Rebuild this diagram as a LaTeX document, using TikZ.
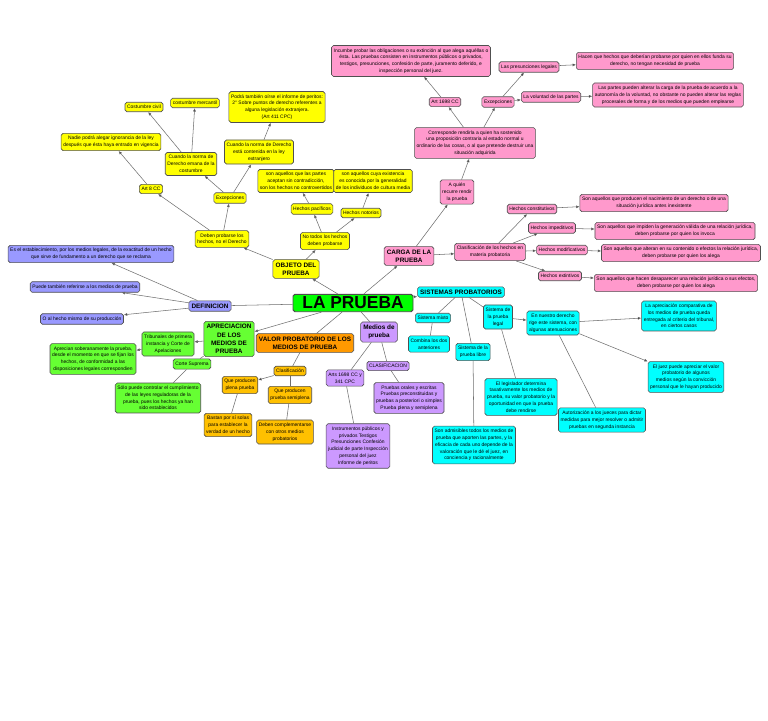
\documentclass[tikz,border=0pt]{standalone}
\usepackage{fontspec}
\setmainfont{Liberation Sans}
\usetikzlibrary{arrows.meta}
\definecolor{cyel}{HTML}{FFFF00}
\definecolor{cpink}{HTML}{FF99CC}
\definecolor{ccyan}{HTML}{00FFFF}
\definecolor{clav}{HTML}{9999FF}
\definecolor{cgreen}{HTML}{66FF33}
\definecolor{cmain}{HTML}{00FF00}
\definecolor{corg}{HTML}{FF9900}
\definecolor{camb}{HTML}{FFC000}
\definecolor{cvio}{HTML}{CC99FF}
\definecolor{cline}{HTML}{707070}
\definecolor{cbord}{HTML}{505050}
\begin{document}
\begin{tikzpicture}[x=0.75pt,y=-0.75pt,
  box/.style={draw=cbord, line width=0.45pt, rounded corners=1.4pt, align=center,
    inner xsep=1.6pt, inner ysep=2.2pt, font=\fontsize{3.7}{5.1}\selectfont},
  ttl/.style={box, font=\fontsize{4.8}{6.2}\selectfont\bfseries, inner xsep=2pt, inner ysep=2.2pt},
  yb/.style={box, fill=cyel},
  pb/.style={box, fill=cpink},
  cb/.style={box, fill=ccyan},
  lb/.style={box, fill=clav},
  gb/.style={box, fill=cgreen},
  ob/.style={box, fill=camb},
  vb/.style={box, fill=cvio},
  arr/.style={draw=cline, line width=0.4pt, -{Latex[length=2.6pt,width=2.2pt,fill=black]}},
  ln/.style={draw=cline, line width=0.4pt}
]
\useasboundingbox (0,0) rectangle (768,721);
\fill[white] (0,0) rectangle (768,721);

% central
\node[box, fill=cmain, draw=black!70, line width=0.7pt, font=\fontsize{13}{15}\selectfont\bfseries, inner sep=2pt, minimum width=90pt] (main) at (353,303) {LA PRUEBA};

% ---------- OBJETO (yellow)
\node[ttl, fill=cyel] (obj) at (296,269) {OBJETO DEL\\PRUEBA};
\node[yb] (deb) at (222,239) {Deben probarse los\\hechos, no el Derecho};
\node[yb] (not) at (325,241) {No todos los hechos\\deben probarse};
\node[yb] (exy) at (230,198) {Excepciones};
\node[yb] (art8) at (151,189) {Art 8 CC};
\node[yb] (nad) at (111,142) {Nadie podrá alegar ignorancia de la ley\\después que ésta haya entrado en vigencia};
\node[yb] (cciv) at (144,107) {Costumbre civil};
\node[yb] (cmer) at (195,103) {costumbre mercantil};
\node[yb] (ccos) at (191,164) {Cuando la norma de\\Derecho emana de la\\costumbre};
\node[yb] (cley) at (259,152) {Cuando la norma de Derecho\\está contenida en la ley\\extranjero};
\node[yb] (pod) at (277,107) {Podrá también oírse el informe de peritos:\\2° Sobre puntos de derecho referentes a\\alguna legislación extranjera.\\(Art 411 CPC)};
\node[yb] (spac) at (296,181) {son aquellos que las partes\\aceptan sin contradicción,\\son los hechos no controvertidos};
\node[yb] (snot) at (373,181) {son aquellos cuya existencia\\es conocida por la generalidad\\de los individuos de cultura media};
\node[yb] (hpac) at (312,209) {Hechos pacíficos};
\node[yb] (hnot) at (361,213) {Hechos notorios};

\draw[arr] (main) -- (obj);
\draw[arr] (obj) -- (deb);
\draw[arr] (obj) -- (not);
\draw[arr] (deb) -- (exy);
\draw[arr] (deb) -- (art8);
\draw[arr] (art8) -- (nad);
\draw[arr] (exy) -- (ccos);
\draw[arr] (exy) -- (cley);
\draw[arr] (ccos) -- (cciv);
\draw[arr] (ccos) -- (cmer);
\draw[arr] (cley) -- (pod);
\draw[arr] (not) -- (hpac);
\draw[arr] (not) -- (hnot);
\draw[arr] (hpac) -- (spac);
\draw[arr] (hnot) -- (snot);

% ---------- CARGA (pink)
\node[ttl, fill=cpink] (car) at (409,256) {CARGA DE LA\\PRUEBA};
\node[pb] (aqui) at (457,192) {A quién\\recurre rendir\\la prueba};
\node[pb] (corr) at (475,143) {Corresponde rendirla a quien ha sostenido\\una proposición contraria al estado normal u\\ordinario de las cosas, o al que pretende destruir una\\situación adquirida};
\node[pb] (a1698) at (445,102) {Art 1698 CC};
\node[pb] (inc) at (411,61) {Incumbe probar las obligaciones o su extinción al que alega aquéllas o\\ésta. Las pruebas consisten en instrumentos públicos o privados,\\testigos, presunciones, confesión de parte, juramento deferido, e\\inspección personal del juez.};
\node[pb] (exp) at (498,102) {Excepciones};
\node[pb] (pres) at (529,67) {Las presunciones legales};
\node[pb] (hac) at (655,61) {Hacen que hechos que deberían probarse por quien en ellos funda su\\derecho, no tengan necesidad de prueba};
\node[pb] (vol) at (551,97) {La voluntad de las partes};
\node[pb] (lpar) at (668,95) {Las partes pueden alterar la carga de la prueba de acuerdo a la\\autonomía de la voluntad, no obstante no pueden alterar las reglas\\procesales de forma y de los medios que pueden emplearse};
\node[pb] (clas) at (490,252) {Clasificación de los hechos en\\materia probatoria};
\node[pb] (hcon) at (532,209) {Hechos constitutivos};
\node[pb] (himp) at (552,228) {Hechos impeditivos};
\node[pb] (hmod) at (562,250) {Hechos modificativos};
\node[pb] (hext) at (560,276) {Hechos extintivos};
\node[pb] (scon) at (654,203) {Son aquellos que producen el nacimiento de un derecho o de una\\situación jurídica antes inexistente};
\node[pb] (simp) at (675,231) {Son aquellos que impiden la generación válida de una relación jurídica,\\deben probarse por quien los invoca};
\node[pb] (smod) at (681,253) {Son aquellos que alteran en su contenido o efectos la relación jurídica,\\deben probarse por quien los alega};
\node[pb] (sext) at (676,283) {Son aquellos que hacen desaparecer una relación jurídica o sus efectos,\\deben probarse por quien los alega};

\draw[arr] (main) -- (car);
\draw[arr] (car) -- (aqui);
\draw[arr] (car) -- (clas);
\draw[arr] (aqui) -- (corr);
\draw[arr] (corr) -- (a1698);
\draw[arr] (corr) -- (exp);
\draw[arr] (a1698) -- (inc);
\draw[arr] (exp) -- (pres);
\draw[arr] (exp) -- (vol);
\draw[arr] (pres) -- (hac);
\draw[arr] (vol) -- (lpar);
\draw[arr] (clas) -- (hcon);
\draw[arr] (clas) -- (himp);
\draw[arr] (clas) -- (hmod);
\draw[arr] (clas) -- (hext);
\draw[arr] (hcon) -- (scon);
\draw[arr] (himp) -- (simp);
\draw[arr] (hmod) -- (smod);
\draw[arr] (hext) -- (sext);

% ---------- SISTEMAS (cyan)
\node[ttl, fill=ccyan] (sis) at (461,292) {SISTEMAS PROBATORIOS};
\node[cb] (smix) at (433,318) {Sistema mixto};
\node[cb] (comb) at (429,344) {Combina los dos\\anteriores};
\node[cb] (slib) at (473,352) {Sistema de la\\prueba libre};
\node[cb] (sleg) at (498,317) {Sistema de\\la prueba\\legal};
\node[cb] (enu) at (553,323) {En nuestro derecho\\rige este sistema, con\\algunas atenuaciones};
\node[cb] (lapr) at (679,316) {La apreciación comparativa de\\los medios de prueba queda\\entregada al criterio del tribunal,\\en ciertos casos};
\node[cb] (eljz) at (686,377) {El juez puede apreciar el valor\\probatorio de algunos\\medios según la convicción\\personal que le hayan producido};
\node[cb] (elleg) at (521,397) {El legislador determina\\taxativamente los medios de\\prueba, su valor probatorio y la\\oportunidad en que la prueba\\debe rendirse};
\node[cb] (aut) at (602,420) {Autorización a los jueces para dictar\\medidas para mejor resolver o admitir\\pruebas en segunda instancia};
\node[cb] (adm) at (474,445) {Son admisibles todos los medios de\\prueba que aporten las partes, y la\\eficacia de cada uno depende de la\\valoración que le dé el juez, en\\conciencia y racionalmente};

\draw[arr] (main) -- (sis);
\draw[ln] (sis) -- (smix);
\draw[ln] (sis) -- (slib);
\draw[ln] (sis) -- (sleg);
\draw[ln] (smix) -- (comb);
\draw[ln] (slib) -- (adm);
\draw[arr] (sleg) -- (enu);
\draw[ln] (sleg) -- (elleg);
\draw[arr] (enu) -- (lapr);
\draw[arr] (enu) -- (eljz);
\draw[ln] (enu) -- (aut);

% ---------- MEDIOS (violet)
\node[ttl, fill=cvio] (med) at (379,332) {Medios de\\prueba};
\node[vb] (arts) at (345,378) {Arts 1698 CC y\\341 CPC};
\node[vb] (clv) at (388,366) {CLASIFICACION};
\node[vb] (pora) at (409,398) {Pruebas orales y escritas\\Pruebas preconstituidas y\\pruebas a posteriori o simples\\Prueba plena y semiplena};
\node[vb] (ins) at (358,446) {Instrumentos públicos y\\privados Testigos\\Presunciones Confesión\\judicial de parte Inspección\\personal del juez\\Informe de peritos};

\draw[ln] (main) -- (med);
\draw[ln] (med) -- (arts);
\draw[ln] (med) -- (clv);
\draw[ln] (clv) -- (pora);
\draw[ln] (arts) -- (ins);

% ---------- VALOR (orange)
\node[ttl, fill=corg] (val) at (305,343) {VALOR PROBATORIO DE LOS\\MEDIOS DE PRUEBA};
\node[ob] (clo) at (290,371) {Clasificación};
\node[ob] (qpl) at (240,385) {Que producen\\plena prueba};
\node[ob] (qsm) at (290,395) {Que producen\\prueba semiplena};
\node[ob] (bas) at (228,425) {Bastan por sí solas\\para establecer la\\verdad de un hecho};
\node[ob] (dcom) at (285,432) {Deben complementarse\\con otros medios\\probatorios};

\draw[ln] (main) -- (val);
\draw[ln] (val) -- (clo);
\draw[arr] (clo) -- (qpl);
\draw[ln] (clo) -- (qsm);
\draw[ln] (qpl) -- (bas);
\draw[ln] (qsm) -- (dcom);

% ---------- APRECIACION (green)
\node[ttl, fill=cgreen] (apr) at (229,339) {APRECIACION\\DE LOS\\MEDIOS DE\\PRUEBA};
\node[gb] (trib) at (168,344) {Tribunales de primera\\instancia y Corte de\\Apelaciones};
\node[gb] (csup) at (192,364) {Corte Suprema};
\node[gb] (apso) at (93,359) {Aprecian soberanamente la prueba,\\desde el momento en que se fijan los\\hechos, de conformidad a las\\disposiciones legales correspondien};
\node[gb] (solo) at (158,398) {Sólo puede controlar el cumplimiento\\de las leyes reguladoras de la\\prueba, pues los hechos ya han\\sido establecidos};

\draw[arr] (main) -- (apr);
\draw[arr] (apr) -- (trib);
\draw[ln] (apr) -- (csup);
\draw[arr] (trib) -- (apso);
\draw[ln] (csup) -- (solo);

% ---------- DEFINICION (lavender)
\node[ttl, fill=clav] (def) at (210,306) {DEFINICION};
\node[lb] (esel) at (91,254) {Es el establecimiento, por los medios legales, de la exactitud de un hecho\\que sirve de fundamento a un derecho que se reclama};
\node[lb] (pue) at (85,287) {Puede también referirse a los medios de prueba};
\node[lb] (oal) at (82,319) {O al hecho mismo de su producción};

\draw[ln] (main) -- (def);
\draw[arr] (def) -- (esel);
\draw[arr] (def) -- (pue);
\draw[arr] (def) -- (oal);
\end{tikzpicture}
\end{document}
